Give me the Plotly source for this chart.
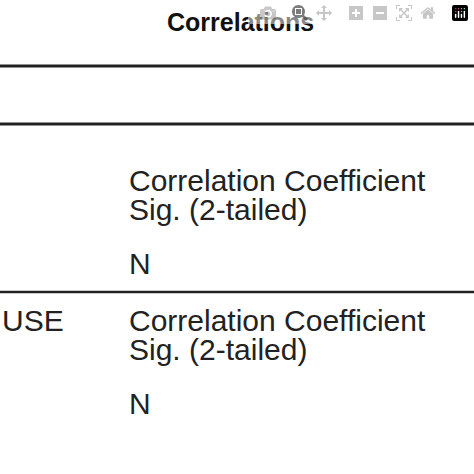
import plotly.graph_objects as go

title = "Correlations"
row_groups = ["", "USE"]
stat_labels = ["Correlation Coefficient", "Sig. (2-tailed)", "N"]

H = 474
def py(y): return 1 - y / H

fig = go.Figure()
fig.update_layout(width=474, height=474, margin=dict(l=0, r=0, t=0, b=0),
                  paper_bgcolor="white", plot_bgcolor="white",
                  xaxis=dict(visible=False, range=[0, 474]), yaxis=dict(visible=False, range=[0, 1]))

fig.add_annotation(x=240/474, y=py(22), xref="paper", yref="paper", text="<b>%s</b>" % title,
                   showarrow=False, yanchor="middle", font=dict(family="Liberation Sans", size=25, color="#111"))

for yy, w in [(66, 3), (124, 3), (292, 2.5)]:
    fig.add_shape(type="line", xref="paper", yref="paper", x0=0, x1=1, y0=py(yy), y1=py(yy),
                  line=dict(color="#222", width=w))

group_y = [180, 320]
row_dy = [0, 29, 83]
for g, gy in zip(row_groups, group_y):
    if g:
        fig.add_annotation(x=0, y=py(gy), xref="paper", yref="paper", text=g, xanchor="left", yanchor="middle",
                           showarrow=False, font=dict(family="Liberation Sans", size=30, color="#222"))
    for lab, dy in zip(stat_labels, row_dy):
        fig.add_annotation(x=127/474, y=py(gy + dy), xref="paper", yref="paper", text=lab, xanchor="left",
                           yanchor="middle", showarrow=False,
                           font=dict(family="Liberation Sans", size=30, color="#222"))

fig.write_html("out.html", post_script=(
    "document.body.style.margin='0';"
    "Plotly.relayout(document.getElementById('{plot_id}'),{width:474,height:474});"))
